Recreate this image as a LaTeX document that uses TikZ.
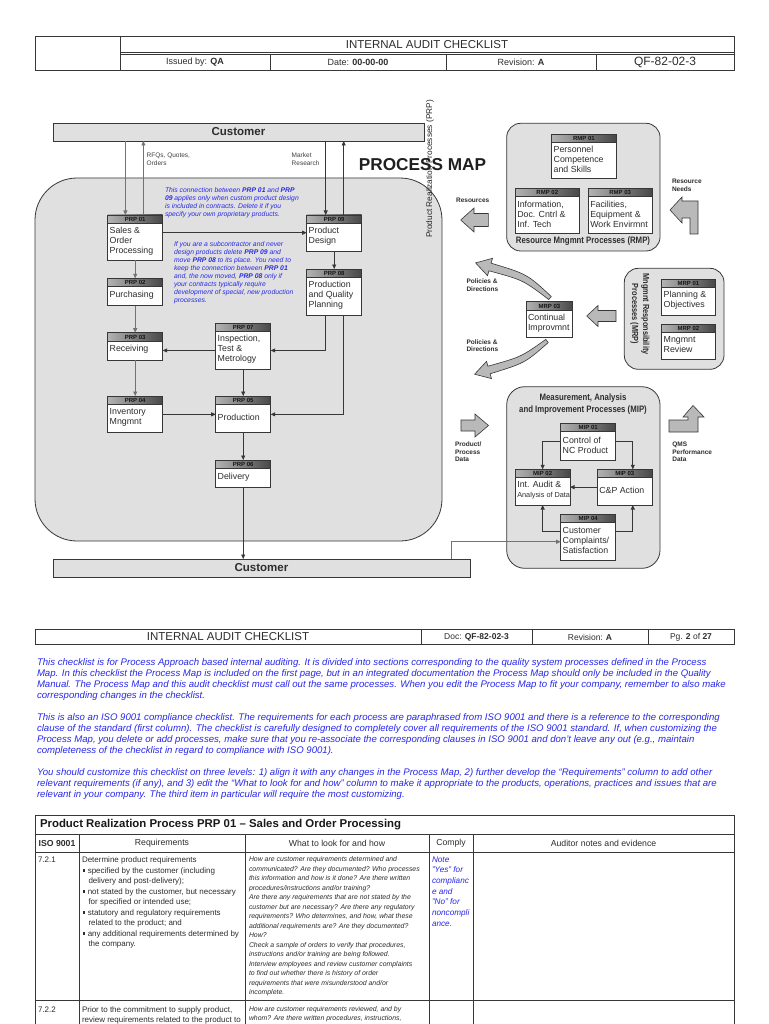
\documentclass[tikz,border=0pt]{standalone}
\usepackage{fontspec}
\setmainfont{Liberation Sans}
\newfontfamily\nar[FakeStretch=0.84]{Liberation Sans}
\usetikzlibrary{arrows.meta,fit,calc}
\newcommand\fz[2]{\fontsize{#1}{#2}\selectfont}
\definecolor{blu}{RGB}{40,40,235}
\definecolor{rg}{RGB}{224,224,224}
\definecolor{ag}{RGB}{185,185,185}
\definecolor{ln}{RGB}{55,55,55}
\definecolor{tx}{RGB}{45,45,45}
\tikzset{
 every node/.style={inner sep=0pt, outer sep=0pt},
 boxln/.style={draw=ln, line width=0.8pt},
 hdtxt/.style={font=\fz{6}{6}\bfseries, text=black!92},
 bodytxt/.style={font=\fz{8.8}{10}, text=tx, align=left},
 arr/.style={draw=ln, line width=0.7pt, -{Triangle[length=4.5pt,width=4pt]}},
 garr/.style={draw=black!55, line width=0.8pt, -{Triangle[length=4.5pt,width=4pt]}},
 region/.style={draw=ln, line width=0.8pt, fill=rg},
 blockarrow/.style={draw=ln, line width=0.6pt, fill=ag},
 smlab/.style={font=\fz{6.5}{7.6}\bfseries, text=tx, align=left},
 reglab/.style={font=\nar\fz{9.3}{11.5}\bfseries, text=tx, align=center},
 note/.style={font=\fz{6.8}{8}\itshape, text=blu, align=left, anchor=west},
 para/.style={font=\fz{9.6}{11}\itshape, text=blu, anchor=west, text height=7pt, text depth=2pt},
 cell/.style={font=\fz{8}{10.5}, text=tx, anchor=west, text height=6pt, text depth=2pt},
 cellit/.style={font=\fz{6.9}{9.5}\itshape, text=tx, anchor=west, text height=5.2pt, text depth=1.7pt},
 cellbl/.style={font=\fz{8.2}{10.7}\itshape, text=blu, anchor=west, text height=6pt, text depth=2pt},
 th/.style={font=\fz{8.7}{8.7}, text=tx},
 tbl/.style={draw=ln, line width=0.8pt},
}
\newcommand\procbox[7]{%
 \node[fill=white, fit={(#2,#3) (#4,#5)}] (#1) {};
 \shade[left color=black!30, right color=black!72] (#2,#3) rectangle (#4,{#3+8.5});
 \draw[boxln] (#2,{#3+8.5}) -- (#4,{#3+8.5});
 \draw[boxln] (#1.north west) rectangle (#1.south east);
 \node[hdtxt] (#1h) at ({(#2+#4)/2},{#3+4.4}) {#6};
 \node[bodytxt, anchor=west] (#1t) at ({#2+2},{(#3+8.5+#5)/2-1}) {#7};
}
\newcommand\bul{\rule[1.5pt]{2.2pt}{2.2pt}}
\begin{document}
\begin{tikzpicture}[x=1pt,y=-1pt]
\useasboundingbox (0,0) rectangle (768,1024);
\fill[white] (0,0) rectangle (768,1024);

% ---------- header 1 ----------
\draw[tbl] (35,36) rectangle (734,70);
\draw[tbl] (120,36) -- (120,70);
\draw[draw=ln, line width=0.5pt] (120,52) -- (734,52) (120,54.5) -- (734,54.5);
\draw[tbl] (270,54.5) -- (270,70) (446,54.5) -- (446,70) (596,54.5) -- (596,70);
\node[font=\fz{11.5}{11.5}, text=tx] (h1t) at (427,44.5) {INTERNAL AUDIT CHECKLIST};
\node[font=\fz{9}{9}, text=tx] (h1a) at (195,62) {Issued by: \textbf{QA}};
\node[font=\fz{9}{9}, text=tx] (h1b) at (358,62) {Date: \textbf{00-00-00}};
\node[font=\fz{9}{9}, text=tx] (h1c) at (521,62) {Revision: \textbf{A}};
\node[font=\fz{12}{12}, text=tx] (h1d) at (665,62.5) {QF-82-02-3};

% ---------- regions ----------
\node[region, rounded corners=42pt, fit={(35,178) (442,541)}] (prpR) {};
\node[region, rounded corners=14pt, fit={(506.7,123.3) (660,251)}] (rmpR) {};
\node[region, rounded corners=14pt, fit={(624.3,268.3) (724,369.3)}] (mrpR) {};
\node[region, rounded corners=18pt, fit={(506.7,386.7) (660,568.3)}] (mipR) {};

% customer bars
\node[fill=rg, draw=ln, line width=0.8pt, fit={(53,123) (424,141)}] (custT) {};
\node[font=\fz{11.5}{11.5}\bfseries, text=tx] (custTl) at (custT) {Customer};
\node[fill=rg, draw=ln, line width=0.8pt, fit={(53,559) (470,577)}] (custB) {};
\node[font=\fz{11.5}{11.5}\bfseries, text=tx] (custBl) at (custB) {Customer};

% title
\node[font=\fz{17.2}{17.2}\bfseries, text=black!88] (title) at (422.5,164.5) {PROCESS MAP};
\node[rotate=90, font=\fz{8.3}{8.3}, text=black!85] (prplab) at (430,169) {Product Realization Processes (PRP)};

% ---------- PRP boxes ----------
\procbox{prp01}{107.7}{215}{162.7}{260}{PRP 01}{Sales \&\\Order\\Processing}
\procbox{prp02}{107.7}{278.3}{162.7}{305.7}{PRP 02}{Purchasing}
\procbox{prp03}{107.7}{332.7}{162.7}{360}{PRP 03}{Receiving}
\procbox{prp04}{107.7}{396}{162.7}{432.7}{PRP 04}{Inventory\\Mngmnt}
\procbox{prp07}{215.7}{323.3}{270.7}{369}{PRP 07}{Inspection,\\Test \&\\Metrology}
\procbox{prp05}{215.7}{396}{270.7}{432.7}{PRP 05}{Production}
\procbox{prp06}{215.7}{460}{270.7}{487.3}{PRP 06}{Delivery}
\procbox{prp09}{306.7}{215}{361.7}{251}{PRP 09}{Product\\Design}
\procbox{prp08}{306.7}{269}{361.7}{315.7}{PRP 08}{Production\\and Quality\\Planning}

% ---------- RMP / MRP / MIP boxes ----------
\procbox{rmp01}{551.7}{134.3}{616}{178.3}{RMP 01}{Personnel\\Competence\\and Skills}
\procbox{rmp02}{515.3}{188.3}{579.3}{233.3}{RMP 02}{Information,\\Doc. Cntrl \&\\Inf. Tech}
\procbox{rmp03}{588.3}{188.3}{652}{233.3}{RMP 03}{Facilities,\\Equipment \&\\Work Envirmnt}
\procbox{mrp01}{661.7}{279.3}{715}{315}{MRP 01}{Planning \&\\Objectives}
\procbox{mrp02}{661.7}{324}{715}{359.3}{MRP 02}{Mngmnt\\Review}
\procbox{mrp03}{526}{301.7}{572.7}{337.3}{MRP 03}{Continual\\Improvmnt}
\procbox{mip01}{560.7}{423.3}{615.7}{460}{MIP 01}{Control of\\NC Product}
\procbox{mip02}{515.3}{469.3}{570}{505}{MIP 02}{Int. Audit \&\\{\fz{7.3}{9}Analysis of Data}}
\procbox{mip03}{597.3}{469.3}{652.3}{505}{MIP 03}{C\&P Action}
\procbox{mip04}{560.7}{514}{615.7}{560.7}{MIP 04}{Customer\\Complaints/\\Satisfaction}

% region labels
\node[reglab] (rmpl) at (583,241.5) {Resource Mngmnt Processes (RMP)};
\node[reglab] (mipl) at (583,404) {Measurement, Analysis\\and Improvement Processes (MIP)};
\node[reglab, font=\nar\fz{8.8}{11}\bfseries, rotate=-90] (mrpl) at (640,314) {Mngmnt Responsibility\\Processes (MRP)};

% ---------- PRP connectors ----------
\coordinate (a1) at ([xshift=-9.8pt]prp01.north);
\coordinate (a2) at ([xshift=8.2pt]prp01.north);
\coordinate (a3) at ([xshift=-8.5pt]prp09.north);
\coordinate (a4) at ([xshift=9.5pt]prp09.north);
\draw[garr] (a1 |- custT.south) -- (a1);
\draw[garr] (a2) -- (a2 |- custT.south);
\draw[arr] (a3 |- custT.south) -- (a3);
\draw[arr] (a4) -- (a4 |- custT.south);
\coordinate (a5) at ([yshift=4.8pt]prp01.east);
\draw[arr] (a5) -- (a5 -| prp09.west);
\draw[garr] (prp01.south) -- (prp02.north);
\draw[arr] (prp09.south) -- (prp08.north);
\draw[garr] (prp02.south) -- (prp03.north);
\draw[garr] (prp03.south) -- (prp04.north);
\coordinate (a10) at ([yshift=-4.3pt]prp07.west);
\draw[arr] (a10) -- (a10 -| prp03.east);
\coordinate (a11) at ([xshift=-9.2pt]prp08.south);
\draw[arr] (a11) |- (a10 -| prp07.east);
\coordinate (a12) at ([xshift=9.1pt]prp08.south);
\draw[arr] (a12) |- (prp05.east);
\draw[arr] (prp04.east) -- (prp05.west);
\draw[arr] (prp07.south) -- (prp05.north);
\draw[arr] (prp05.south) -- (prp06.north);
\draw[arr] (prp06.south) -- (prp06.south |- custB.north);

% ---------- MIP connectors ----------
\draw[arr] (mip01.west) -| (mip02.north);
\coordinate (m3n) at ([xshift=8pt]mip03.north);
\coordinate (m3s) at ([xshift=8pt]mip03.south);
\draw[arr] (mip01.east) -| (m3n);
\draw[arr] (mip03.west) -- (mip02.east);
\coordinate (m4w) at ([yshift=5.6pt]mip04.west);
\coordinate (m4e) at ([yshift=5.6pt]mip04.east);
\draw[arr] (m4w) -| (mip02.south);
\draw[arr] (m4e) -| (m3s);
\coordinate (c22) at ([yshift=-4.4pt]mip04.west);
\coordinate (c22b) at ([xshift=-18.3pt]custB.north east);
\draw[garr] (c22b) |- (c22);

% ---------- block arrows ----------
\filldraw[blockarrow] (460.7,220) -- (474,208) -- (474,213.5) -- (488.3,213.5) -- (488.3,226.5) -- (474,226.5) -- (474,232) -- cycle;
\filldraw[blockarrow] (670,210) -- (682,197) -- (682,201) -- (698,201) -- (698,234) -- (690,234) -- (690,218) -- (682,218) -- (682,223) -- cycle;
\filldraw[blockarrow] (586.7,316) -- (598,305.5) -- (598,310.5) -- (616,310.5) -- (616,321.5) -- (598,321.5) -- (598,326.5) -- cycle;
\filldraw[blockarrow] (461,420) -- (475,420) -- (475,414) -- (488.5,425.5) -- (475,437) -- (475,431) -- (461,431) -- cycle;
\filldraw[blockarrow] (669,420) -- (688,420) -- (688,417) -- (683,417) -- (693,405.5) -- (704,417) -- (698,417) -- (698,432) -- (669,432) -- cycle;
% curved policy arrows
\filldraw[blockarrow] (548.7,299.5) .. controls (523,280) .. (488.9,270.8) -- (487.5,275.7) -- (475.6,262.9) -- (492.5,258.3) -- (491.1,263.2) .. controls (527,274) .. (551.3,296.5) -- cycle;
\filldraw[blockarrow] (545.8,339.4) .. controls (521,357) .. (487.9,366.2) -- (486.5,361.4) -- (474.6,374.2) -- (491.5,378.6) -- (490.1,373.8) .. controls (525,363) .. (548.2,342.6) -- cycle;

% small labels
\node[smlab] (lres) at (472.7,200) {Resources};
\node[smlab, anchor=west] (lneeds) at (672,185.5) {Resource\\Needs};
\node[smlab, anchor=west] (lpol1) at (466.5,285) {Policies \&\\Directions};
\node[smlab, anchor=west] (lpol2) at (466.5,345.5) {Policies \&\\Directions};
\node[smlab, anchor=west] (lppd) at (455,452) {Product/\\Process\\Data};
\node[smlab, anchor=west] (lqms) at (672.3,452) {QMS\\Performance\\Data};
\node[font=\fz{6.5}{7.7}, text=black!75, align=left, anchor=west] (lrfq) at (146.7,159) {RFQs, Quotes,\\Orders};
\node[font=\fz{6.5}{7.7}, text=black!75, align=left, anchor=west] (lmkt) at (291.7,159) {Market\\Research};

% notes
\node[note] (n1) at (165,203) {This connection between \textbf{PRP 01} and \textbf{PRP}\\\textbf{09} applies only when custom product design\\is included in contracts. Delete it if you\\specify your own proprietary products.};
\node[note] (n2) at (174,273) {If you are a subcontractor and never\\design products delete \textbf{PRP 09} and\\move \textbf{PRP 08} to its place. You need to\\keep the connection between \textbf{PRP 01}\\and, the now moved, \textbf{PRP 08} only if\\your contracts typically require\\development of special, new production\\processes.};

% ---------- header 2 ----------
\draw[tbl] (35,629) rectangle (734,644);
\draw[tbl] (421,629) -- (421,644) (532,629) -- (532,644) (648,629) -- (648,644);
\node[font=\fz{11.5}{11.5}, text=tx] (h2t) at (228,636.5) {INTERNAL AUDIT CHECKLIST};
\node[font=\fz{8.5}{8.5}, text=tx] (h2a) at (476.5,637) {Doc: \textbf{QF-82-02-3}};
\node[font=\fz{8.5}{8.5}, text=tx] (h2b) at (590,637) {Revision: \textbf{A}};
\node[font=\fz{8.5}{8.5}, text=tx] (h2c) at (691,637) {Pg. \textbf{2} of \textbf{27}};

% ---------- paragraphs ----------
\node[para] (p1a) at (37,663) {This checklist is for Process Approach based internal auditing. It is divided into sections corresponding to the quality system processes defined in the Process};
\node[para] (p1b) at (37,674) {Map. In this checklist the Process Map is included on the first page, but in an integrated documentation the Process Map should only be included in the Quality};
\node[para] (p1c) at (37,685) {Manual. The Process Map and this audit checklist must call out the same processes. When you edit the Process Map to fit your company, remember to also make};
\node[para] (p1d) at (37,696) {corresponding changes in the checklist.};
\node[para] (p2a) at (37,718) {This is also an ISO 9001 compliance checklist. The requirements for each process are paraphrased from ISO 9001 and there is a reference to the corresponding};
\node[para] (p2b) at (37,729) {clause of the standard (first column). The checklist is carefully designed to completely cover all requirements of the ISO 9001 standard. If, when customizing the};
\node[para] (p2c) at (37,740) {Process Map, you delete or add processes, make sure that you re-associate the corresponding clauses in ISO 9001 and don’t leave any out (e.g., maintain};
\node[para] (p2d) at (37,751) {completeness of the checklist in regard to compliance with ISO 9001).};
\node[para] (p3a) at (37,773) {You should customize this checklist on three levels: 1) align it with any changes in the Process Map, 2) further develop the “Requirements” column to add other};
\node[para] (p3b) at (37,784) {relevant requirements (if any), and 3) edit the “What to look for and how” column to make it appropriate to the products, operations, practices and issues that are};
\node[para] (p3c) at (37,795) {relevant in your company. The third item in particular will require the most customizing.};

% ---------- table ----------
\draw[tbl] (35,1024) -- (35,815) -- (734,815) -- (734,1024);
\draw[tbl] (35,834) -- (734,834) (35,852) -- (734,852) (35,1000) -- (734,1000);
\draw[tbl] (79,834) -- (79,1024) (245,834) -- (245,1024) (429,834) -- (429,1024) (473,834) -- (473,1024);
\node[font=\fz{11.4}{11.4}\bfseries, text=black!90, anchor=west] (ttl) at (40,825) {Product Realization Process PRP 01 – Sales and Order Processing};
\node[th, font=\fz{8.7}{8.7}\bfseries] (th1) at (57,843) {ISO 9001};
\node[th] (th2) at (162,843) {Requirements};
\node[th] (th3) at (337,843) {What to look for and how};
\node[th] (th4) at (451,843) {Comply};
\node[th] (th5) at (603.5,843) {Auditor notes and evidence};

\node[cell] (r1c1) at (38,860) {7.2.1};
\node[cell] (r1a) at (82,860) {Determine product requirements};
\node[cell] (r1b) at (83,871) {\bul\hspace{2.6pt}specified by the customer (including};
\node[cell] (r1c) at (88.5,881.5) {delivery and post-delivery);};
\node[cell] (r1d) at (83,892) {\bul\hspace{2.6pt}not stated by the customer, but necessary};
\node[cell] (r1e) at (88.5,902.5) {for specified or intended use;};
\node[cell] (r1f) at (83,913) {\bul\hspace{2.6pt}statutory and regulatory requirements};
\node[cell] (r1g) at (88.5,923.5) {related to the product; and};
\node[cell] (r1h) at (83,934) {\bul\hspace{2.6pt}any additional requirements determined by};
\node[cell] (r1i) at (88.5,944.5) {the company.};

\node[cellit] (q1) at (249,860) {How are customer requirements determined and};
\node[cellit] (q2) at (249,869.5) {communicated? Are they documented? Who processes};
\node[cellit] (q3) at (249,879) {this information and how is it done? Are there written};
\node[cellit] (q4) at (249,888.5) {procedures/instructions and/or training?};
\node[cellit] (q5) at (249,898) {Are there any requirements that are not stated by the};
\node[cellit] (q6) at (249,907.5) {customer but are necessary? Are there any regulatory};
\node[cellit] (q7) at (249,917) {requirements? Who determines, and how, what these};
\node[cellit] (q8) at (249,926.5) {additional requirements are? Are they documented?};
\node[cellit] (q9) at (249,936) {How?};
\node[cellit] (q10) at (249,945.5) {Check a sample of orders to verify that procedures,};
\node[cellit] (q11) at (249,955) {instructions and/or training are being followed.};
\node[cellit] (q12) at (249,964.5) {Interview employees and review customer complaints};
\node[cellit] (q13) at (249,974) {to find out whether there is history of order};
\node[cellit] (q14) at (249,983.5) {requirements that were misunderstood and/or};
\node[cellit] (q15) at (249,993) {incomplete.};

\node[cellbl] (k1) at (432,860) {Note};
\node[cellbl] (k2) at (432,870.7) {"Yes" for};
\node[cellbl] (k3) at (432,881.4) {complianc};
\node[cellbl] (k4) at (432,892.1) {e and};
\node[cellbl] (k5) at (432,902.8) {"No" for};
\node[cellbl] (k6) at (432,913.5) {noncompli};
\node[cellbl] (k7) at (432,924.2) {ance.};

\node[cell] (r2c1) at (38,1010) {7.2.2};
\node[cell] (r2a) at (82,1010) {Prior to the commitment to supply product,};
\node[cell] (r2b) at (82,1020.5) {review requirements related to the product to};
\node[cellit] (r2q1) at (249,1009.5) {How are customer requirements reviewed, and by};
\node[cellit] (r2q2) at (249,1019) {whom? Are there written procedures, instructions,};
\end{tikzpicture}
\end{document}
